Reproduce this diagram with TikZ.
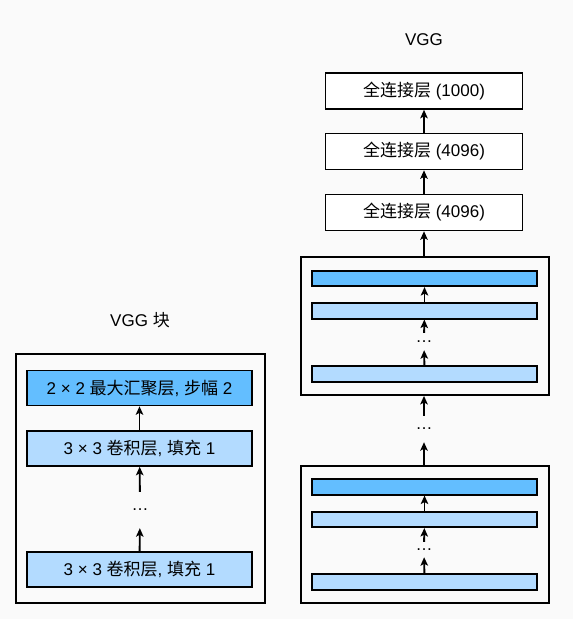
\documentclass[tikz,border=0pt]{standalone}
\usepackage{fontspec}
\setmainfont{Liberation Sans}
\newfontfamily\cjk{Noto Sans CJK SC}
\usepackage{tikz}
\usetikzlibrary{arrows.meta}
\usepackage{xcolor}
\definecolor{bgcol}{HTML}{FAFAFA}
\definecolor{convcol}{HTML}{B3DBFF}
\definecolor{poolcol}{HTML}{63BEFF}

\begin{document}
\begin{tikzpicture}[x=1pt, y=-1pt,
  every node/.style={font=\fontsize{17}{20}\selectfont},
  box/.style={draw, line width=1.8pt, fill=bgcol, inner sep=0pt},
  fc/.style={draw, line width=1.6pt, fill=white, minimum width=197pt, minimum height=36pt, inner sep=0pt},
  conv/.style={draw, line width=1.6pt, fill=convcol, minimum width=225pt, minimum height=35pt, inner sep=0pt},
  pool/.style={conv, fill=poolcol},
  bar/.style={draw, line width=1.6pt, fill=convcol, minimum width=225pt, minimum height=15.5pt, inner sep=0pt},
  pbar/.style={bar, fill=poolcol},
  dots/.style={inner sep=0pt, minimum width=20pt},
  arr/.style={line width=1.9pt, -{Stealth[length=8.5pt,width=7.5pt,inset=2pt]}}]
\fill[bgcol] (0,0) rectangle (573,619);
\useasboundingbox (0,0) rectangle (573,619);

\node (tl) at (140,320) {VGG {\cjk 块}};
\node[box, minimum width=249pt, minimum height=249pt] (bl) at (140.5,478.5) {};
\node[pool] (p0) at (139.5,388) {2 × 2 {\cjk 最大汇聚层}, {\cjk 步幅} 2};
\node[conv] (c1) at (139.5,448.5) {3 × 3 {\cjk 卷积层}, {\cjk 填充} 1};
\node[dots, minimum height=36pt] (d0) at (140,510) {…};
\node[conv] (c2) at (139.5,569.5) {3 × 3 {\cjk 卷积层}, {\cjk 填充} 1};
\draw[arr] (c1) -- (p0);
\draw[arr] (d0) -- (c1);
\draw[arr] (c2) -- (d0);

\node (tr) at (424,40) {VGG};
\node[fc] (f1) at (424,91) {{\cjk 全连接层} (1000)};
\node[fc] (f2) at (424,151.5) {{\cjk 全连接层} (4096)};
\node[fc] (f3) at (424,212.5) {{\cjk 全连接层} (4096)};
\node[box, minimum width=248pt, minimum height=138pt] (b1) at (425,326) {};
\node[pbar] (b1p) at (424.5,278.5) {};
\node[bar] (b1c) at (424.5,311) {};
\node[dots, minimum height=17pt] (b1d) at (424,341.5) {…};
\node[bar] (b1e) at (424.5,374) {};
\node[dots, minimum height=26pt] (dm) at (424,429) {…};
\node[box, minimum width=248pt, minimum height=137pt] (b2) at (425,534.5) {};
\node[pbar] (b2p) at (424.5,487) {};
\node[bar] (b2c) at (424.5,519.5) {};
\node[dots, minimum height=15pt] (b2d) at (424,549.5) {…};
\node[bar] (b2e) at (424.5,582) {};
\draw[arr] (f2) -- (f1);
\draw[arr] (f3) -- (f2);
\draw[arr] (b1.north -| f3) -- (f3);
\draw[arr] (b1c) -- (b1p);
\draw[arr] (b1d) -- (b1c);
\draw[arr] (b1e) -- (b1d);
\draw[arr] (dm) -- (dm |- b1.south);
\draw[arr] (dm |- b2.north) -- (dm);
\draw[arr] (b2c) -- (b2p);
\draw[arr] (b2d) -- (b2c);
\draw[arr] (b2e) -- (b2d);
\end{tikzpicture}
\end{document}
